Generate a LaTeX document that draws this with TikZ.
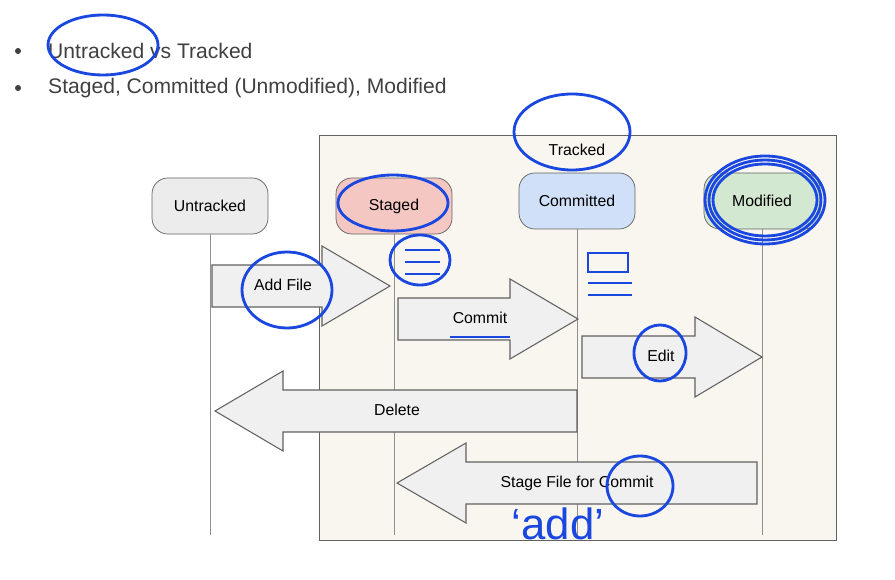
\documentclass[tikz,border=0pt]{standalone}
\usepackage{fontspec}
\setmainfont{Liberation Sans}
\usetikzlibrary{positioning}
\definecolor{paper}{HTML}{F8F6EE}
\definecolor{stagedfill}{HTML}{F4C7C3}
\definecolor{commitfill}{HTML}{D0E0F8}
\definecolor{modfill}{HTML}{D3E8D0}
\definecolor{ink}{HTML}{1E1E1E}
\definecolor{pen}{HTML}{1A47E0}
\tikzset{
	state/.style={draw=ink!70, rounded corners=9pt, minimum width=2.32cm, minimum height=1.12cm, font=\small},
	life/.style={draw=ink!50, line width=0.4pt},
	block/.style={draw=ink!70, fill=gray!12, line width=0.6pt},
	lbl/.style={font=\small},
	scribble/.style={draw=pen, line width=1.6pt},
}
% block arrow: tail x, tip x, head base x, centre y
\newcommand{\blockarrow}[4]{
	\draw[block] (#1,#4-21) -- (#3,#4-21) -- (#3,#4-40) -- (#2,#4) -- (#3,#4+40) -- (#3,#4+21) -- (#1,#4+21) -- cycle;
}
\begin{document}
\begin{tikzpicture}[x=0.02cm,y=-0.02cm]
		\useasboundingbox (0,0) rectangle (895,580);
		\fill[white] (0,0) rectangle (895,580);
		
		\node[anchor=west, font=\large, text=ink!85] (b1) at (42,51) {Untracked vs Tracked};
		\node[anchor=west, font=\large, text=ink!85] (b2) at (42,88) {Staged, Committed (Unmodified), Modified};
		\foreach \y in {51,88}{
			\fill[ink!85] (18,\y) circle (3);
		}
		
		\draw[ink!70, fill=paper] (319,135) rectangle (836,540);
		\node[lbl] (tracked) at (577,150) {Tracked};
		
		\node[state, fill=gray!15] (untracked) at (210,206) {Untracked};
		\node[state, fill=stagedfill] (staged) at (394,206) {Staged};
		\node[state, fill=commitfill] (committed) at (577,201) {Committed};
		\node[state, fill=modfill] (modified) at (762,201) {Modified};
		
		\foreach \n in {untracked, staged, committed, modified}{
			\coordinate (\n-end) at (\n.south |- 0,535);
			\draw[life] (\n.south) -- (\n-end);
		}
		
		\blockarrow{212}{390}{322}{286}
		\node[lbl] (addfile) at (283,285) {Add File};
		\blockarrow{398}{578}{510}{319}
		\node[lbl] (commit) at (480,318) {Commit};
		\blockarrow{582}{762}{695}{357}
		\node[lbl] (edit) at (661,356) {Edit};
		\blockarrow{577}{215}{283}{411}
		\node[lbl] (delete) at (397,410) {Delete};
		\blockarrow{757}{397}{466}{483}
		\node[lbl] (stagefile) at (577,483) {Stage File for Commit};
		
		% pen annotations
		\draw[scribble] (103,45) ellipse (55 and 30);
		\draw[scribble] (572,132) ellipse (58 and 38);
		\draw[scribble] (393,203) ellipse (55 and 28);
		\foreach \r in {0,4,8}{
			\draw[scribble] (765,200) ellipse ({52+\r} and {36+\r});
		}
		\draw[scribble] (287,290) ellipse (45 and 38);
		\draw[scribble] (660,353) ellipse (26 and 28);
		\draw[scribble] (640,486) ellipse (33 and 30);
		\draw[scribble] (420,260) ellipse (30 and 25);
		\foreach \y in {250,262,274}{
			\draw[scribble] (405,\y) -- (440,\y);
		}
		\draw[scribble] (588,253) rectangle (628,272);
		\foreach \y in {283,295}{
			\draw[scribble] (588,\y) -- (632,\y);
		}
		\draw[scribble] (450,337) -- (510,337);
		\node[font=\Huge, text=pen] (addnote) at (558,524) {`add'};
\end{tikzpicture}
\end{document}
